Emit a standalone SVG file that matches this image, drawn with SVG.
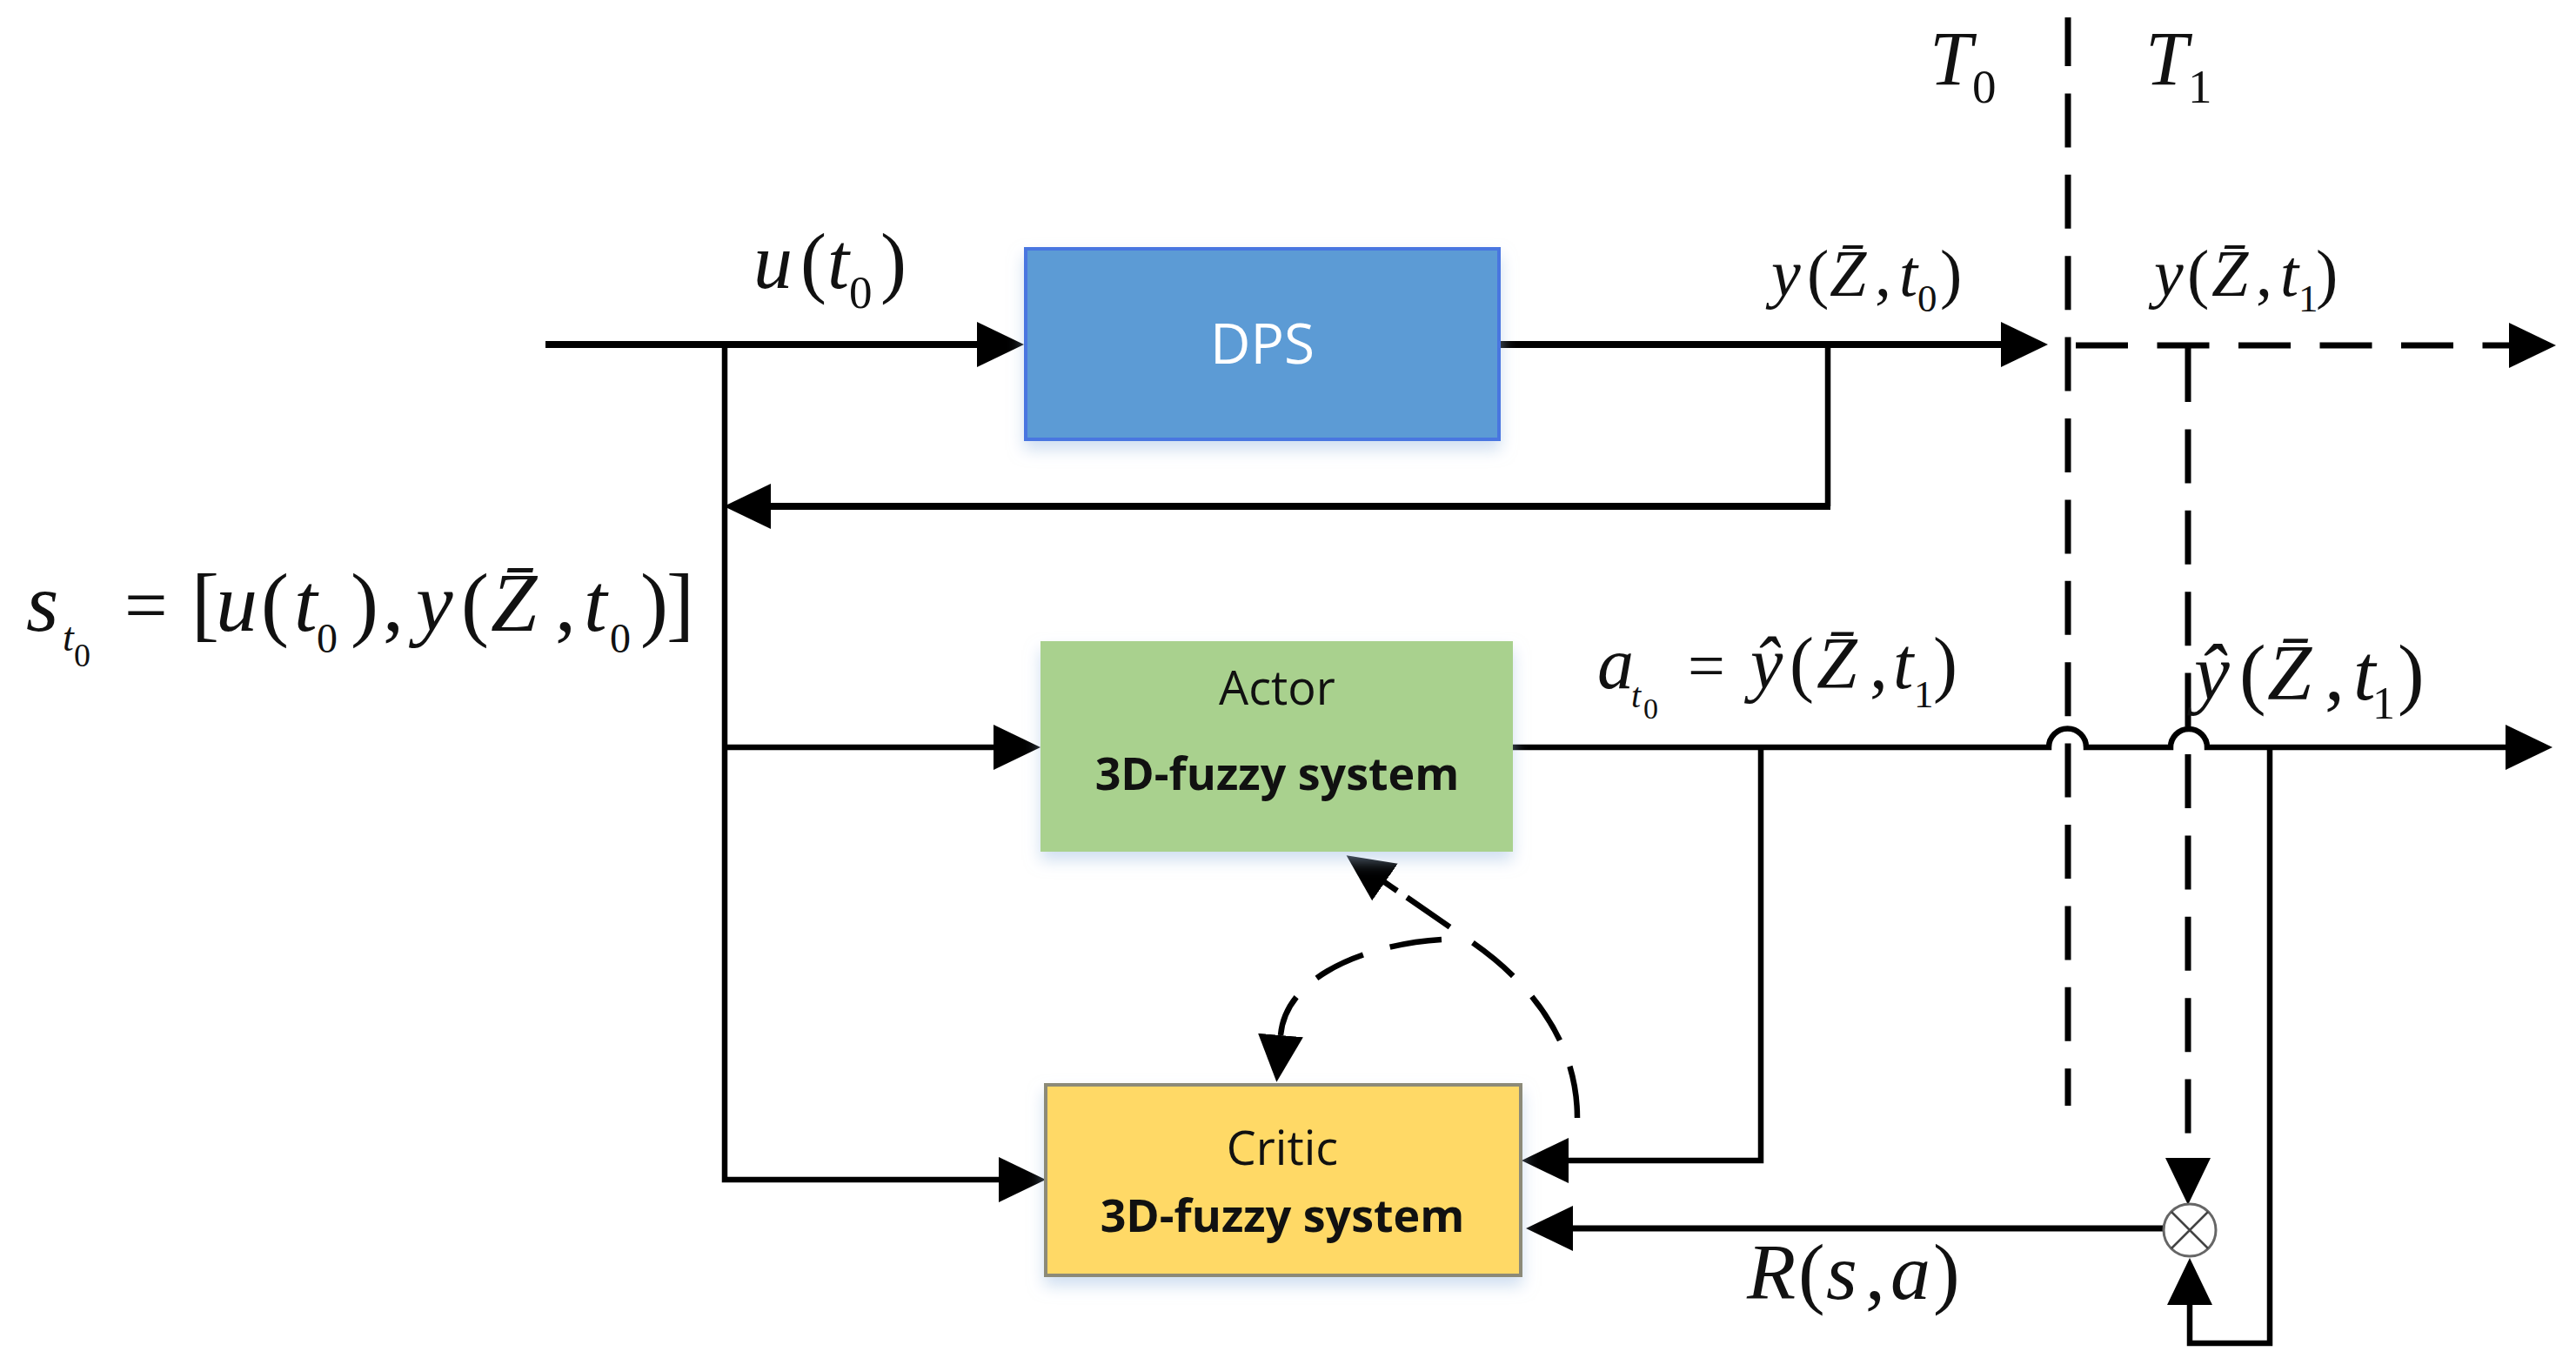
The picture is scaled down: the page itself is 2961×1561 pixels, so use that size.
<svg xmlns="http://www.w3.org/2000/svg" width="2961" height="1561" viewBox="0 0 2961 1561">
<style>
.m{font-family:"Liberation Serif","Times New Roman",serif;font-style:italic;fill:#111}
.r{font-style:normal}
.box{font-family:"Open Sans","Noto Sans",sans-serif;text-anchor:middle;fill:#111}
.b{font-weight:700}
.l{fill:none;stroke:#000;stroke-width:6.5}
.t{fill:none;stroke:#000;stroke-width:8}
.d{fill:none;stroke:#000;stroke-width:7;stroke-dasharray:62 31.4}
.c{fill:none;stroke:#000;stroke-width:6.5;stroke-dasharray:60 32}
</style>
<defs>
<marker id="a" markerUnits="userSpaceOnUse" markerWidth="56" markerHeight="54" refX="0" refY="27" orient="auto"><path d="M0 1L54 27L0 53Z" fill="#000"/></marker>
<filter id="s" x="-10%" y="-10%" width="120%" height="130%"><feDropShadow dx="0" dy="10" stdDeviation="9" flood-color="#a9c4e4" flood-opacity=".55"/></filter>
</defs>
<rect width="2961" height="1561" fill="#fff"/>
<g id="connectors">
<path class="t" d="M627 396H1123" marker-end="url(#a)"/>
<path class="l" d="M833 396V1356H1148" marker-end="url(#a)"/>
<path class="l" d="M833 859H1142" marker-end="url(#a)"/>
<path class="t" d="M1724 396H2300" marker-end="url(#a)"/>
<path class="l" d="M2101 396V582"/>
<path class="t" d="M2104 582H886" marker-end="url(#a)"/>
<path class="d" style="stroke-dasharray:60 33.5" d="M2386 397H2884" marker-end="url(#a)"/>
<path class="d" stroke-dashoffset="6" d="M2377 20V1271"/>
<path class="d" d="M2515 400V1331" marker-end="url(#a)"/>
<path class="l" d="M1739 859H2355A21 21 0 0 1 2398 859H2495A21 21 0 0 1 2537 859H2880" marker-end="url(#a)"/>
<path class="l" d="M2024 859V1334H1803" marker-end="url(#a)"/>
<path class="t" style="stroke-width:7" d="M2486 1412H1808" marker-end="url(#a)"/>
<path class="l" d="M2609 859V1544H2517V1500" marker-end="url(#a)"/>
<path class="c" d="M1813 1285C1813 1190 1750 1120 1680 1075L1592 1014" marker-end="url(#a)"/>
<path class="l" d="M1606 1024L1590 1013"/>
<path class="c" d="M1657 1080C1575 1085 1478 1120 1472 1190" marker-end="url(#a)"/>
</g>
<g id="dps"><rect x="1179" y="286" width="544" height="219" fill="#5b9bd5" stroke="#4a76e0" stroke-width="4" filter="url(#s)"/>
<text class="box" x="1451" y="418" font-size="64" style="fill:#fff">DPS</text></g>
<g id="actor"><rect x="1196" y="737" width="543" height="242" fill="#a9d18e" filter="url(#s)"/>
<text class="box" x="1468" y="810" font-size="54">Actor</text>
<text class="box b" x="1468" y="908" font-size="52">3D-fuzzy system</text></g>
<g id="critic"><rect x="1202" y="1247" width="546" height="219" fill="#ffd966" stroke="#8c8a78" stroke-width="4" filter="url(#s)"/>
<text class="box" x="1474" y="1339" font-size="54">Critic</text>
<text class="box b" x="1474" y="1416" font-size="52">3D-fuzzy system</text></g>
<g id="sum"><circle cx="2517" cy="1414" r="30" fill="#fff" stroke="#666" stroke-width="3"/>
<path d="M2496 1393L2538 1435M2538 1393L2496 1435" stroke="#444" stroke-width="2.5"/></g>
<g id="labels">
<text class="m" font-size="88" y="97"><tspan x="2218">T</tspan><tspan class="r" x="2267" y="118" font-size="55">0</tspan></text>
<text class="m" font-size="88" y="97"><tspan x="2466">T</tspan><tspan class="r" x="2515" y="118" font-size="55">1</tspan></text>
<text class="m" font-size="90" y="331"><tspan x="866">u</tspan><tspan class="r" x="920">(</tspan><tspan x="951">t</tspan><tspan class="r" x="976" y="354" font-size="53">0</tspan><tspan class="r" x="1012" y="331">)</tspan></text>
<text class="m" font-size="76" y="340"><tspan x="2036">y</tspan><tspan class="r" x="2077">(</tspan><tspan x="2103">Z̄</tspan><tspan class="r" x="2155">,</tspan><tspan x="2183">t</tspan><tspan class="r" x="2204" y="358" font-size="45">0</tspan><tspan class="r" x="2230" y="340">)</tspan></text>
<text class="m" font-size="76" y="340"><tspan x="2476">y</tspan><tspan class="r" x="2514">(</tspan><tspan x="2542">Z̄</tspan><tspan class="r" x="2593">,</tspan><tspan x="2621">t</tspan><tspan class="r" x="2642" y="358" font-size="45">1</tspan><tspan class="r" x="2662" y="340">)</tspan></text>
<text class="m" font-size="96" y="725"><tspan x="30">s</tspan><tspan x="72" y="748" font-size="46">t</tspan><tspan class="r" x="85" y="766" font-size="38">0</tspan><tspan class="r" x="143" y="725" font-size="88">=</tspan><tspan class="r" x="220" y="725">[</tspan><tspan x="248">u</tspan><tspan class="r" x="300">(</tspan><tspan x="338">t</tspan><tspan class="r" x="364" y="750" font-size="48">0</tspan><tspan class="r" x="403" y="725">)</tspan><tspan class="r" x="440">,</tspan><tspan x="478">y</tspan><tspan class="r" x="530">(</tspan><tspan x="564">Z̄</tspan><tspan class="r" x="638">,</tspan><tspan x="671">t</tspan><tspan class="r" x="701" y="750" font-size="48">0</tspan><tspan class="r" x="736" y="725">)</tspan><tspan class="r" x="766">]</tspan></text>
<text class="m" font-size="84" y="791"><tspan x="1836">a</tspan><tspan x="1875" y="813" font-size="40">t</tspan><tspan class="r" x="1889" y="826" font-size="34">0</tspan><tspan class="r" x="1940" y="791" font-size="76">=</tspan><tspan x="2012" y="791">ŷ</tspan><tspan class="r" x="2057">(</tspan><tspan x="2088">Z̄</tspan><tspan class="r" x="2149">,</tspan><tspan x="2176">t</tspan><tspan class="r" x="2200" y="813" font-size="45">1</tspan><tspan class="r" x="2222" y="791">)</tspan></text>
<text class="m" font-size="92" y="804"><tspan x="2522">ŷ</tspan><tspan class="r" x="2574">(</tspan><tspan x="2606">Z̄</tspan><tspan class="r" x="2672">,</tspan><tspan x="2705">t</tspan><tspan class="r" x="2727" y="826" font-size="52">1</tspan><tspan class="r" x="2756" y="804">)</tspan></text>
<text class="m" font-size="92" y="1493"><tspan x="2008">R</tspan><tspan class="r" x="2067">(</tspan><tspan x="2099">s</tspan><tspan class="r" x="2144">,</tspan><tspan x="2173">a</tspan><tspan class="r" x="2222">)</tspan></text>
</g>
</svg>
